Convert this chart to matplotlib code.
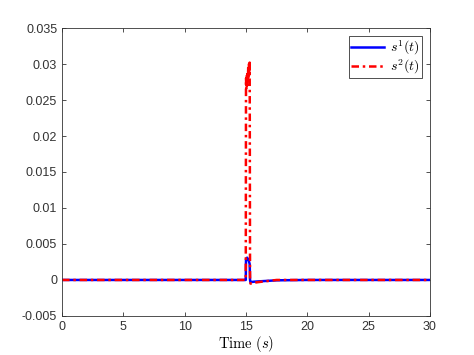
import numpy as np
import matplotlib.pyplot as plt

plt.rcParams['font.family'] = ['Liberation Sans', 'DejaVu Sans']
plt.rcParams['mathtext.fontset'] = 'cm'

# time samples (s)
t = [0, 5, 10, 14.9, 14.98, 15.0, 15.03, 15.06, 15.09, 15.12, 15.15, 15.18,
     15.21, 15.24, 15.27, 15.3, 15.33, 15.36, 15.4, 15.6, 16.0, 16.5, 17.0,
     17.5, 20, 25, 30]

# s^1(t)
s1 = [0.0, 0.0, 0.0, 0.0, 0.0, 0.0028, 0.003, 0.0029, 0.0031, 0.003, 0.0029, 0.0028,
      0.0027, 0.0026, 0.0024, 0.0022, 0.0, -0.0003, -0.0003, -0.00025, -0.0002,
      -0.00015, -0.0001, -0.00005, 0.0, 0.0, 0.0]

# s^2(t)
s2 = [0.0, 0.0, 0.0, 0.0, 0.0, 0.028, 0.0265, 0.0285, 0.027, 0.029, 0.0275, 0.0295,
      0.028, 0.03, 0.0285, 0.0302, 0.0, -0.0005, -0.0005, -0.0004, -0.0003,
      -0.0002, -0.0001, 0.0, 0.0, 0.0, 0.0]

fig = plt.figure(figsize=(4.74, 3.55), dpi=100)
ax = fig.add_axes([0.131, 0.110, 0.776, 0.811])

ax.plot(t, s1, color='#0000ff', lw=1.8, label=r'$s^1(t)$')
ax.plot(t, s2, color='#ff0000', lw=1.8, ls=(0, (3, 1.5, 1, 1.5)), label=r'$s^2(t)$')

ax.set_xlim(0, 30)
ax.set_ylim(-0.005, 0.035)
ax.set_xticks([0, 5, 10, 15, 20, 25, 30])
ax.set_yticks([-0.005, 0, 0.005, 0.01, 0.015, 0.02, 0.025, 0.03, 0.035])
ax.set_yticklabels(['-0.005', '0', '0.005', '0.01', '0.015', '0.02', '0.025', '0.03', '0.035'])
ax.tick_params(direction='in', top=True, right=True, length=3, labelsize=9,
               colors='#333333', width=0.6)
for sp in ax.spines.values():
    sp.set_color('#333333')
    sp.set_linewidth(0.6)

ax.set_xlabel(r'$\mathrm{Time}\ (s)$', fontsize=10.5, labelpad=1)

leg = ax.legend(loc='upper right', fontsize=10, fancybox=False, framealpha=1,
                edgecolor='#333333', handlelength=2.4, handletextpad=0.4,
                borderpad=0.15, labelspacing=0.05, borderaxespad=0.6)
leg.get_frame().set_linewidth(0.6)

fig.savefig('out.png', dpi=100)
